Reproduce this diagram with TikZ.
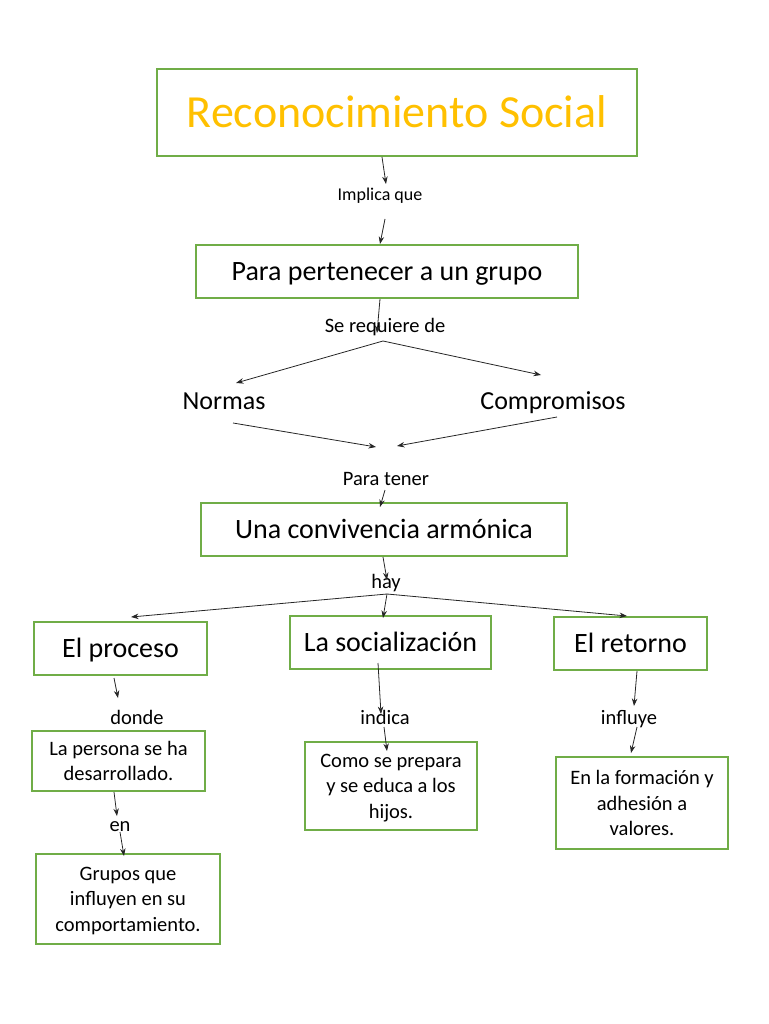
\documentclass[tikz,border=0pt]{standalone}
\usepackage{fontspec}
\setmainfont{Carlito}
\usetikzlibrary{arrows.meta}
\definecolor{boxgreen}{HTML}{70AD47}
\definecolor{titleorange}{HTML}{FFC000}
\tikzset{
  box/.style={draw=boxgreen, line width=1.2pt, inner sep=0pt, align=center, text depth=0pt},
  big/.style={font=\fontsize{28}{34}\selectfont, text height=18pt},
  mid/.style={font=\fontsize{26}{32}\selectfont, inner sep=0pt, text height=16.7pt, text depth=0pt},
  lbl/.style={inner sep=0pt, font=\fontsize{20.5}{25}\selectfont, text height=13.2pt, text depth=0pt},
  small/.style={font=\fontsize{20.5}{25.5}\selectfont},
  arr/.style={draw=black!85, line width=0.8pt, -{Stealth[length=7.5pt,width=5.5pt]}},
}
\begin{document}
\begin{tikzpicture}[x=1pt,y=-1pt]
\useasboundingbox (0,0) rectangle (768,1024);
% boxes
\node[box, minimum width=480, minimum height=87, text=titleorange, font=\fontsize{46}{54}\selectfont, text height=29.6pt] (title) at (397,112.5) {Reconocimiento Social};
\node[box, big, minimum width=382, minimum height=53] (grupo) at (387,271.5) {Para pertenecer a un grupo};
\node[box, big, minimum width=366, minimum height=53] (conv) at (384,529.5) {Una convivencia armónica};
\node[box, big, minimum width=173, minimum height=53] (proceso) at (120.5,648.5) {El proceso};
\node[box, big, minimum width=201, minimum height=53] (social) at (390.5,642.5) {La socialización};
\node[box, big, minimum width=153, minimum height=53] (retorno) at (630.5,643.5) {El retorno};
\node[box, small, minimum width=173, minimum height=60] (persona) at (118.5,761) {La persona se ha\\desarrollado.};
\node[box, small, minimum width=184, minimum height=90] (grupos) at (128,899) {Grupos que\\influyen en su\\comportamiento.};
\node[box, small, minimum width=172, minimum height=88] (como) at (391,786) {Como se prepara\\y se educa a los\\hijos.};
\node[box, small, minimum width=172, minimum height=92] (formacion) at (642,803) {En la formación y\\adhesión a\\valores.};
% labels
\node[lbl, font=\fontsize{18}{22}\selectfont, text height=11.6pt] (implica) at (380,195) {Implica que};
\node[lbl] (requiere) at (385,325.5) {Se requiere de};
\node[mid] (normas) at (224,401) {Normas};
\node[mid] (compromisos) at (553,401) {Compromisos};
\node[lbl] (tener) at (386,478.5) {Para tener};
\node[lbl] (hay) at (386,581.5) {hay};
\node[lbl] (donde) at (137,718) {donde};
\node[lbl] (en) at (120,824.5) {en};
\node[lbl] (indica) at (385,718) {indica};
\node[lbl] (influye) at (629,718) {influye};
% arrow end points
\coordinate (a1s) at (382,157); \coordinate (a1e) at (386,184);
\coordinate (a2s) at (385,219); \coordinate (a2e) at (380,244);
\coordinate (a3s) at (380,299); \coordinate (a3e) at (377,333);
\coordinate (sp1) at (383,341);
\coordinate (a4e) at (236,383); \coordinate (a5e) at (541,375);
\coordinate (a6s) at (233,423); \coordinate (a6e) at (376,447);
\coordinate (a7s) at (557,417); \coordinate (a7e) at (397,446);
\coordinate (a8s) at (385,490); \coordinate (a8e) at (380,507);
\coordinate (a9s) at (383,557); \coordinate (a9e) at (387,580);
\coordinate (sp2) at (387,594);
\coordinate (a10e) at (131,617); \coordinate (a11e) at (383,618); \coordinate (a12e) at (627,616);
\coordinate (a13s) at (114,678); \coordinate (a13e) at (118,698);
\coordinate (a14s) at (378,663); \coordinate (a14e) at (381,714);
\coordinate (a15s) at (384,727); \coordinate (a15e) at (387,751);
\coordinate (a16s) at (637,671); \coordinate (a16e) at (634,706);
\coordinate (a17s) at (637,727); \coordinate (a17e) at (631,753);
\coordinate (a18s) at (114,792); \coordinate (a18e) at (117,816);
\coordinate (a19s) at (120,832); \coordinate (a19e) at (124,856);
% arrows
\draw[arr] (a1s) -- (a1e);
\draw[arr] (a2s) -- (a2e);
\draw[arr] (a3s) -- (a3e);
\draw[arr] (sp1) -- (a4e);
\draw[arr] (sp1) -- (a5e);
\draw[arr] (a6s) -- (a6e);
\draw[arr] (a7s) -- (a7e);
\draw[arr] (a8s) -- (a8e);
\draw[arr] (a9s) -- (a9e);
\draw[arr] (sp2) -- (a10e);
\draw[arr] (sp2) -- (a11e);
\draw[arr] (sp2) -- (a12e);
\draw[arr] (a13s) -- (a13e);
\draw[arr] (a14s) -- (a14e);
\draw[arr] (a15s) -- (a15e);
\draw[arr] (a16s) -- (a16e);
\draw[arr] (a17s) -- (a17e);
\draw[arr] (a18s) -- (a18e);
\draw[arr] (a19s) -- (a19e);
\end{tikzpicture}
\end{document}
